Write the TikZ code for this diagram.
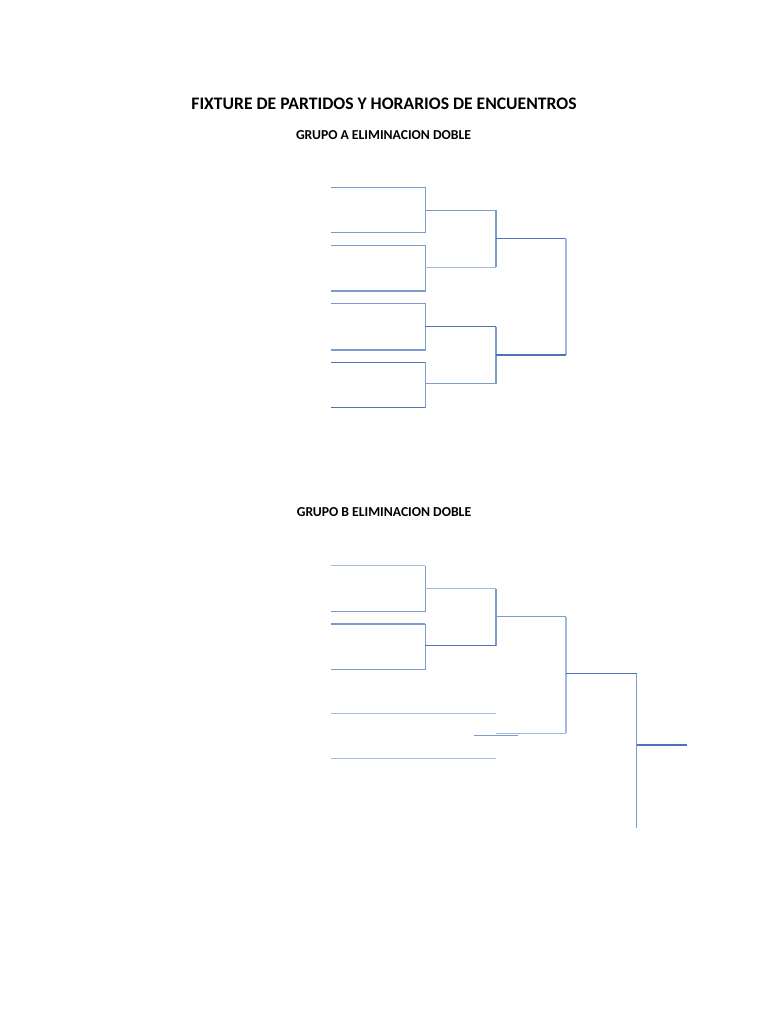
\documentclass[tikz,border=0pt]{standalone}
\usepackage{fontspec}
\setmainfont{Carlito}
\definecolor{bdark}{HTML}{4F73B8}
\definecolor{bmid}{HTML}{7E9BD0}
\definecolor{blight}{HTML}{A4B9E0}
\begin{document}
\begin{tikzpicture}[x=0.75pt,y=-0.75pt,
  ln/.style={line width=1.0pt,bmid},
  lnd/.style={line width=1.0pt,bdark},
  lnl/.style={line width=1.0pt,blight},
  ttl/.style={font=\bfseries\fontsize{13.2}{15}\selectfont,inner sep=0pt},
  sub/.style={font=\bfseries\fontsize{10.25}{12}\selectfont,inner sep=0pt}]
\useasboundingbox (0,0) rectangle (768,1024);
\node[ttl] (title) at (384,104) {FIXTURE DE PARTIDOS Y HORARIOS DE ENCUENTROS};
\node[sub] (subA) at (383.5,135.5) {GRUPO A ELIMINACION DOBLE};
\node[sub] (subB) at (384,512.5) {GRUPO B ELIMINACION DOBLE};
% Group A
\draw[ln] (331,187.3) -- (425.3,187.3) -- (425.3,232.7) -- (331,232.7);
\draw[ln] (331,245.3) -- (425.3,245.3) -- (425.3,291) -- (331,291);
\draw[ln] (331,303.7) -- (425.3,303.7) -- (425.3,350) -- (331,350);
\draw[lnd] (331,362.3) -- (425.3,362.3);
\draw[ln] (425.3,362.3) -- (425.3,407.7);
\draw[lnd] (331,407.7) -- (425.3,407.7);
\draw[ln] (425.3,210.7) -- (496,210.7) -- (496,267.3);
\draw[lnl] (425.3,267.3) -- (496,267.3);
\draw[lnd] (425.3,326.7) -- (496,326.7);
\draw[ln] (496,326.7) -- (496,383.3) -- (425.3,383.3);
\draw[lnd] (496,238.3) -- (566,238.3);
\draw[lnl] (566,238.3) -- (566,355);
\draw[lnd] (566,355) -- (496,355);
% Group B
\draw[lnl] (331,565.7) -- (425.3,565.7);
\draw[ln] (425.3,565.7) -- (425.3,611.7) -- (331,611.7);
\draw[ln] (331,624) -- (425.3,624);
\draw[ln] (425.3,624) -- (425.3,669.3) -- (331,669.3);
\draw[lnl] (425.3,588.7) -- (496,588.7);
\draw[ln] (496,588.7) -- (496,645.7);
\draw[lnd] (496,645.7) -- (425.3,645.7);
\draw[lnl] (331,713.3) -- (496,713.3);
\draw[lnl] (331,758.3) -- (496,758.3);
\draw[ln] (474.3,735.7) -- (518.3,735.7);
\draw[lnl] (496,733.3) -- (566,733.3);
\draw[ln] (496,616.7) -- (566,616.7);
\draw[lnl] (566,616.7) -- (566,733.3);
\draw[lnd] (566,673.7) -- (636.7,673.7);
\draw[ln] (636.7,673.7) -- (636.7,828.3);
\draw[lnd] (636.7,745) -- (686.7,745);
\end{tikzpicture}
\end{document}
